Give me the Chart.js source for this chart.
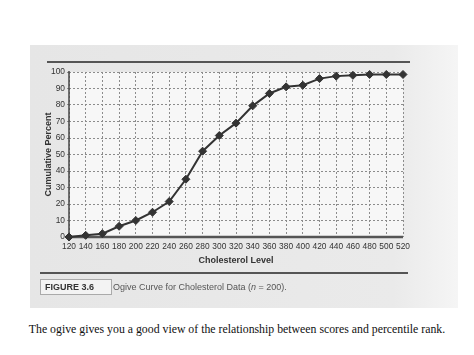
<!DOCTYPE html>
<html>
<head>
<meta charset="utf-8">
<script src="https://cdn.jsdelivr.net/npm/chart.js@4.4.1/dist/chart.umd.min.js"></script>
<style>
    html, body { margin: 0; padding: 0; background: #fff; width: 474px; height: 355px; overflow: hidden; }
    #page { position: absolute; left: 30px; top: 45px; width: 428px; height: 263px;
        background: linear-gradient(to right, #e6e6e6 0%, #eaeaea 85%, #f5f5f5 100%); }
    #wrap { position: absolute; left: 30px; top: 64px; width: 390px; height: 210px; }
    .rule { position: absolute; left: 47px; width: 363px; height: 2px; background: #555; }
    #figbox { position: absolute; left: 40px; top: 279px; width: 66px; height: 14px; border: 1px solid #aaa;
        background: #f3f3f3; font: bold 9px "Liberation Sans", Arial, sans-serif; color: #333; line-height: 14px; padding-left: 4px; }
    #figcap { position: absolute; left: 113px; top: 280px; font: 9px "Liberation Sans", Arial, sans-serif; color: #555; line-height: 14px; }
    #note { position: absolute; left: 0; width: 474px; top: 322px; text-align: center;
        font: 11.8px "Liberation Serif", "Times New Roman", serif; color: #111; }
</style>
</head>
<body>
<div id="page"></div>
<div class="rule" style="top:61px"></div>
<div id="wrap"><canvas id="c"></canvas></div>
<div class="rule" style="top:272px; left:40px; width:368px"></div>
<div id="figbox">FIGURE 3.6</div>
<div id="figcap">Ogive Curve for Cholesterol Data (<i>n</i> = 200).</div>
<div id="note">The ogive gives you a good view of the relationship between scores and percentile rank.</div>
<script>
// cholesterol level upper bounds and cumulative percent
const levels = [120, 140, 160, 180, 200, 220, 240, 260, 280, 300, 320, 340, 360, 380, 400, 420, 440, 460, 480, 500, 520];
const cumPercent = [0, 1, 2, 6.5, 10, 15, 21.5, 35, 52, 61.5, 69, 79.5, 87, 91, 92, 96, 97.5, 98, 98.5, 98.5, 98.5];

const xTicks = levels;
const yTicks = [0, 10, 20, 30, 40, 50, 60, 70, 80, 90, 100];

const tickFont = { family: '"Liberation Sans", Arial, sans-serif', size: 8.4 };
const titleFont = { family: '"Liberation Sans", Arial, sans-serif', size: 9, weight: 'bold' };

// light plot area, then solid axes on top of the dashed grid
const plotBg = {
    id: 'plotBg',
    beforeDraw(chart) {
        const { ctx, chartArea: a } = chart;
        ctx.save();
        ctx.fillStyle = '#f7f7f7';
        ctx.fillRect(a.left, a.top, a.right - a.left, a.bottom - a.top);
        ctx.restore();
    },
    beforeDatasetsDraw(chart) {
        const { ctx, chartArea: a } = chart;
        ctx.save();
        ctx.setLineDash([]);
        ctx.strokeStyle = '#444';
        ctx.lineWidth = 1.5;
        ctx.beginPath();
        ctx.moveTo(a.left, a.top - 1);
        ctx.lineTo(a.left, a.bottom);
        ctx.stroke();
        ctx.strokeStyle = '#555';
        ctx.lineWidth = 2.5;
        ctx.beginPath();
        ctx.moveTo(a.left - 2, a.bottom);
        ctx.lineTo(a.right, a.bottom);
        ctx.stroke();
        ctx.restore();
    }
};

new Chart(document.getElementById('c'), {
    type: 'line',
    data: {
        datasets: [{
            data: levels.map((x, i) => ({ x, y: cumPercent[i] })),
            borderColor: '#333',
            borderWidth: 2,
            backgroundColor: '#333',
            pointStyle: 'rectRot',
            pointRadius: 4,
            pointBorderWidth: 1,
            tension: 0,
            clip: false,
        }]
    },
    options: {
        responsive: true,
        maintainAspectRatio: false,
        animation: false,
        layout: { padding: { top: 8, right: 17, bottom: 4, left: 9 } },
        plugins: { legend: { display: false }, tooltip: { enabled: false } },
        scales: {
            x: {
                type: 'linear',
                min: 120, max: 520,
                afterBuildTicks: s => { s.ticks = xTicks.map(v => ({ value: v })); },
                afterFit: s => { s.height = 33; },
                ticks: { font: tickFont, color: '#333', padding: 5, maxRotation: 0, autoSkip: false },
                grid: { color: '#8c8c8c', lineWidth: 1, drawTicks: false },
                border: { display: false, dash: [2, 2] },
                title: { display: true, text: 'Cholesterol Level', color: '#333', font: titleFont, padding: { top: 5 } }
            },
            y: {
                min: 0, max: 100,
                afterBuildTicks: s => { s.ticks = yTicks.map(v => ({ value: v })); },
                afterFit: s => { s.width = 30; },
                ticks: { font: tickFont, color: '#333', padding: 2 },
                grid: { color: '#8c8c8c', lineWidth: 1, drawTicks: true, tickLength: 2 },
                border: { display: false, dash: [2, 2] },
                title: { display: true, text: 'Cumulative Percent', color: '#333', font: titleFont, padding: { bottom: 1 } }
            }
        }
    },
    plugins: [plotBg]
});
</script>
</body>
</html>
